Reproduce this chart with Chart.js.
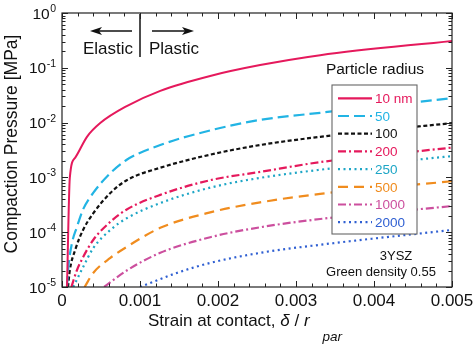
<!DOCTYPE html>
<html>
<head>
<meta charset="utf-8">
<script src="https://cdn.jsdelivr.net/npm/chart.js@4"></script>
<style>body{margin:0;background:#fff}</style>
</head>
<body>
<canvas id="c" width="474" height="345"></canvas>
<script>
// particle radius labels (legend)
var radii = ["10 nm", "50", "100", "200", "250", "500", "1000", "2000"];

// strain at contact (delta / r_par) and compaction pressure [MPa], one pair per radius
var strain10 = [0.000064, 0.0001, 0.00017, 0.00032, 0.00049, 0.00083, 0.00126, 0.0019, 0.00254, 0.00331, 0.005];
var press10 = [1e-5, 9.8e-4, 2.3e-3, 5.5e-3, 9.8e-3, 0.02, 0.038, 0.071, 0.112, 0.17, 0.31];

var strain50 = [0.000064, 0.000077, 0.000128, 0.00019, 0.00027, 0.0004, 0.00062, 0.00083, 0.00126, 0.0019, 0.00254, 0.00331, 0.005];
var press50 = [1e-5, 2.0e-5, 6.3e-5, 1.23e-4, 2.6e-4, 5.2e-4, 1.2e-3, 2.1e-3, 3.9e-3, 7.2e-3, 0.0112, 0.0151, 0.028];

var strain100 = [0.000077, 0.0001, 0.00017, 0.00027, 0.0004, 0.00062, 0.00083, 0.00126, 0.0019, 0.00254, 0.00331, 0.005];
var press100 = [1e-5, 2.0e-5, 4.8e-5, 1.1e-4, 2.2e-4, 5.2e-4, 8.9e-4, 1.5e-3, 2.6e-3, 3.9e-3, 5.5e-3, 9.8e-3];

var strain200 = [0.00012, 0.00019, 0.00027, 0.0004, 0.00062, 0.00083, 0.00126, 0.0019, 0.00254, 0.00331, 0.005];
var press200 = [1e-5, 2.0e-5, 3.5e-5, 7.2e-5, 1.55e-4, 2.6e-4, 4.8e-4, 8.9e-4, 1.26e-3, 1.9e-3, 3.5e-3];

var strain250 = [0.000145, 0.00027, 0.0004, 0.00062, 0.00083, 0.00126, 0.0019, 0.00254, 0.00331, 0.005];
var press250 = [1e-5, 2.3e-5, 5.1e-5, 1.1e-4, 1.8e-4, 3.4e-4, 6.5e-4, 9.8e-4, 1.38e-3, 2.45e-3];

var strain500 = [0.00029, 0.0004, 0.00062, 0.00083, 0.00126, 0.0019, 0.00254, 0.00331, 0.005];
var press500 = [1e-5, 1.8e-5, 3.4e-5, 5.4e-5, 1.2e-4, 2.3e-4, 3.5e-4, 5.0e-4, 8.5e-4];

var strain1000 = [0.00054, 0.00083, 0.00126, 0.0019, 0.00254, 0.00331, 0.005];
var press1000 = [1e-5, 2.0e-5, 4.2e-5, 8.1e-5, 1.23e-4, 1.74e-4, 3.0e-4];

var strain2000 = [0.001, 0.00147, 0.0019, 0.00254, 0.00331, 0.005];
var press2000 = [1e-5, 1.8e-5, 2.75e-5, 4.2e-5, 5.9e-5, 1.1e-4];

// tick labels
var xTickValues = [0, 0.001, 0.002, 0.003, 0.004, 0.005];
var xTickLabels = ["0", "0.001", "0.002", "0.003", "0.004", "0.005"];
var yTickExps = [0, -1, -2, -3, -4, -5];

var strains = [strain10, strain50, strain100, strain200, strain250, strain500, strain1000, strain2000];
var pressures = [press10, press50, press100, press200, press250, press500, press1000, press2000];
var lineColors = ["#e5195c", "#22b4e4", "#111111", "#e5195c", "#1ea6c6", "#f08c1e", "#cc4f9e", "#2f5fd2"];
var dashes = [[], [11, 5], [4, 2.5], [8, 3, 2, 3], [2, 3.5], [10, 6], [8, 3, 2, 3], [2, 3.5]];

var FONT = "'Liberation Sans', Arial, sans-serif";

var datasets = radii.map(function (r, i) {
  return {
    label: r,
    data: strains[i].map(function (x, j) { return { x: x, y: pressures[i][j] }; }),
    borderColor: lineColors[i],
    borderWidth: i == 0 ? 2 : 2.2,
    borderDash: dashes[i],
    pointRadius: 0,
    fill: false,
    cubicInterpolationMode: 'monotone'
  };
});

var decor = {
  id: 'decor',
  afterDatasetsDraw: function (chart) {
    var ctx = chart.ctx, a = chart.chartArea;
    var xs = chart.scales.x, ys = chart.scales.y;
    ctx.save();

    // legend box
    ctx.fillStyle = '#fff';
    ctx.fillRect(332, 85, 85, 149);
    ctx.strokeStyle = '#666';
    ctx.lineWidth = 1.1;
    ctx.strokeRect(332, 85, 85, 149);
    ctx.textBaseline = 'middle';
    ctx.textAlign = 'left';
    ctx.font = '13.5px ' + FONT;
    for (var i = 0; i < radii.length; i++) {
      var ry = 98.3 + i * 17.7;
      ctx.strokeStyle = lineColors[i];
      ctx.lineWidth = 2.2;
      ctx.setLineDash(dashes[i]);
      ctx.beginPath(); ctx.moveTo(338, ry); ctx.lineTo(372, ry); ctx.stroke();
      ctx.setLineDash([]);
      ctx.fillStyle = lineColors[i];
      ctx.fillText(radii[i], 375, ry + 1);
    }
    ctx.fillStyle = '#111';
    ctx.textAlign = 'center';
    ctx.font = '15.5px ' + FONT;
    ctx.fillText('Particle radius', 375, 70);

    // notes
    ctx.font = '13px ' + FONT;
    ctx.fillText('3YSZ', 396, 256);
    ctx.fillText('Green density 0.55', 381, 272);

    // elastic / plastic
    ctx.textBaseline = 'alphabetic';
    ctx.font = '17px ' + FONT;
    ctx.fillText('Elastic', 108, 54);
    ctx.fillText('Plastic', 174, 54);
    ctx.strokeStyle = '#111';
    ctx.lineWidth = 1.5;
    ctx.beginPath(); ctx.moveTo(140, 14); ctx.lineTo(140, 57); ctx.stroke();
    ctx.beginPath(); ctx.moveTo(132, 31); ctx.lineTo(96, 31); ctx.stroke();
    ctx.beginPath(); ctx.moveTo(152, 31); ctx.lineTo(188, 31); ctx.stroke();
    ctx.fillStyle = '#111';
    ctx.beginPath(); ctx.moveTo(90, 31); ctx.lineTo(102, 27); ctx.lineTo(99, 31); ctx.lineTo(102, 35); ctx.closePath(); ctx.fill();
    ctx.beginPath(); ctx.moveTo(194, 31); ctx.lineTo(182, 27); ctx.lineTo(185, 31); ctx.lineTo(182, 35); ctx.closePath(); ctx.fill();

    // frame
    ctx.strokeStyle = '#222';
    ctx.lineWidth = 1.2;
    ctx.strokeRect(a.left, a.top, a.right - a.left, a.bottom - a.top);

    // x ticks (inward, top and bottom)
    ctx.lineWidth = 1;
    for (var k = 0; k <= 25; k++) {
      var px = Math.round(xs.getPixelForValue(k * 0.0002)) + 0.5;
      var len = (k % 5 == 0) ? 6 : 3.5;
      ctx.beginPath();
      ctx.moveTo(px, a.bottom); ctx.lineTo(px, a.bottom - len);
      ctx.moveTo(px, a.top); ctx.lineTo(px, a.top + len);
      ctx.stroke();
    }
    // y ticks (inward, left and right)
    for (var e = -5; e <= 0; e++) {
      for (var m = 1; m < 10; m++) {
        if (e == 0 && m > 1) break;
        var py = Math.round(ys.getPixelForValue(m * Math.pow(10, e))) + 0.5;
        var l2 = m == 1 ? 6 : 3.5;
        ctx.beginPath();
        ctx.moveTo(a.left, py); ctx.lineTo(a.left + l2, py);
        ctx.moveTo(a.right, py); ctx.lineTo(a.right - l2, py);
        ctx.stroke();
      }
    }

    // x tick labels
    ctx.fillStyle = '#111';
    ctx.textAlign = 'center';
    ctx.font = '17px ' + FONT;
    xTickValues.forEach(function (v, i) {
      ctx.fillText(xTickLabels[i], xs.getPixelForValue(v), 306);
    });

    // y tick labels 10^n
    yTickExps.forEach(function (n) {
      var py = ys.getPixelForValue(Math.pow(10, n));
      ctx.font = '10.5px ' + FONT;
      var exp = String(n);
      var we = ctx.measureText(exp).width;
      ctx.textAlign = 'left';
      ctx.fillText(exp, 56 - we, py - 1);
      ctx.font = '15.5px ' + FONT;
      ctx.textAlign = 'right';
      ctx.fillText('10', 56 - we - 0.5, py + 5.5);
    });

    // axis titles
    ctx.textAlign = 'left';
    ctx.font = '17px ' + FONT;
    var t1 = 'Strain at contact, ';
    var x0 = 148;
    ctx.fillText(t1, x0, 326);
    x0 += ctx.measureText(t1).width;
    ctx.font = 'italic 17px ' + FONT;
    ctx.fillText('\u03B4', x0, 326);
    x0 += ctx.measureText('\u03B4').width;
    ctx.font = '17px ' + FONT;
    ctx.fillText(' / ', x0, 326);
    x0 += ctx.measureText(' / ').width;
    ctx.font = 'italic 17px ' + FONT;
    ctx.fillText('r', x0, 326);
    x0 += ctx.measureText('r').width + 13;
    ctx.font = 'italic 13.5px ' + FONT;
    ctx.fillText('par', x0, 341);

    ctx.translate(17, 144);
    ctx.rotate(-Math.PI / 2);
    ctx.textAlign = 'center';
    ctx.font = '17.5px ' + FONT;
    ctx.fillText('Compaction Pressure [MPa]', 0, 0);

    ctx.restore();
  }
};

new Chart(document.getElementById('c').getContext('2d'), {
  type: 'line',
  data: { datasets: datasets },
  options: {
    responsive: false,
    animation: false,
    devicePixelRatio: 1,
    layout: { padding: { left: 62, top: 13, right: 22, bottom: 58 } },
    scales: {
      x: { type: 'linear', min: 0, max: 0.005, display: false },
      y: { type: 'logarithmic', min: 1e-5, max: 1, display: false }
    },
    plugins: { legend: { display: false }, tooltip: { enabled: false } }
  },
  plugins: [decor]
});
</script>
</body>
</html>
